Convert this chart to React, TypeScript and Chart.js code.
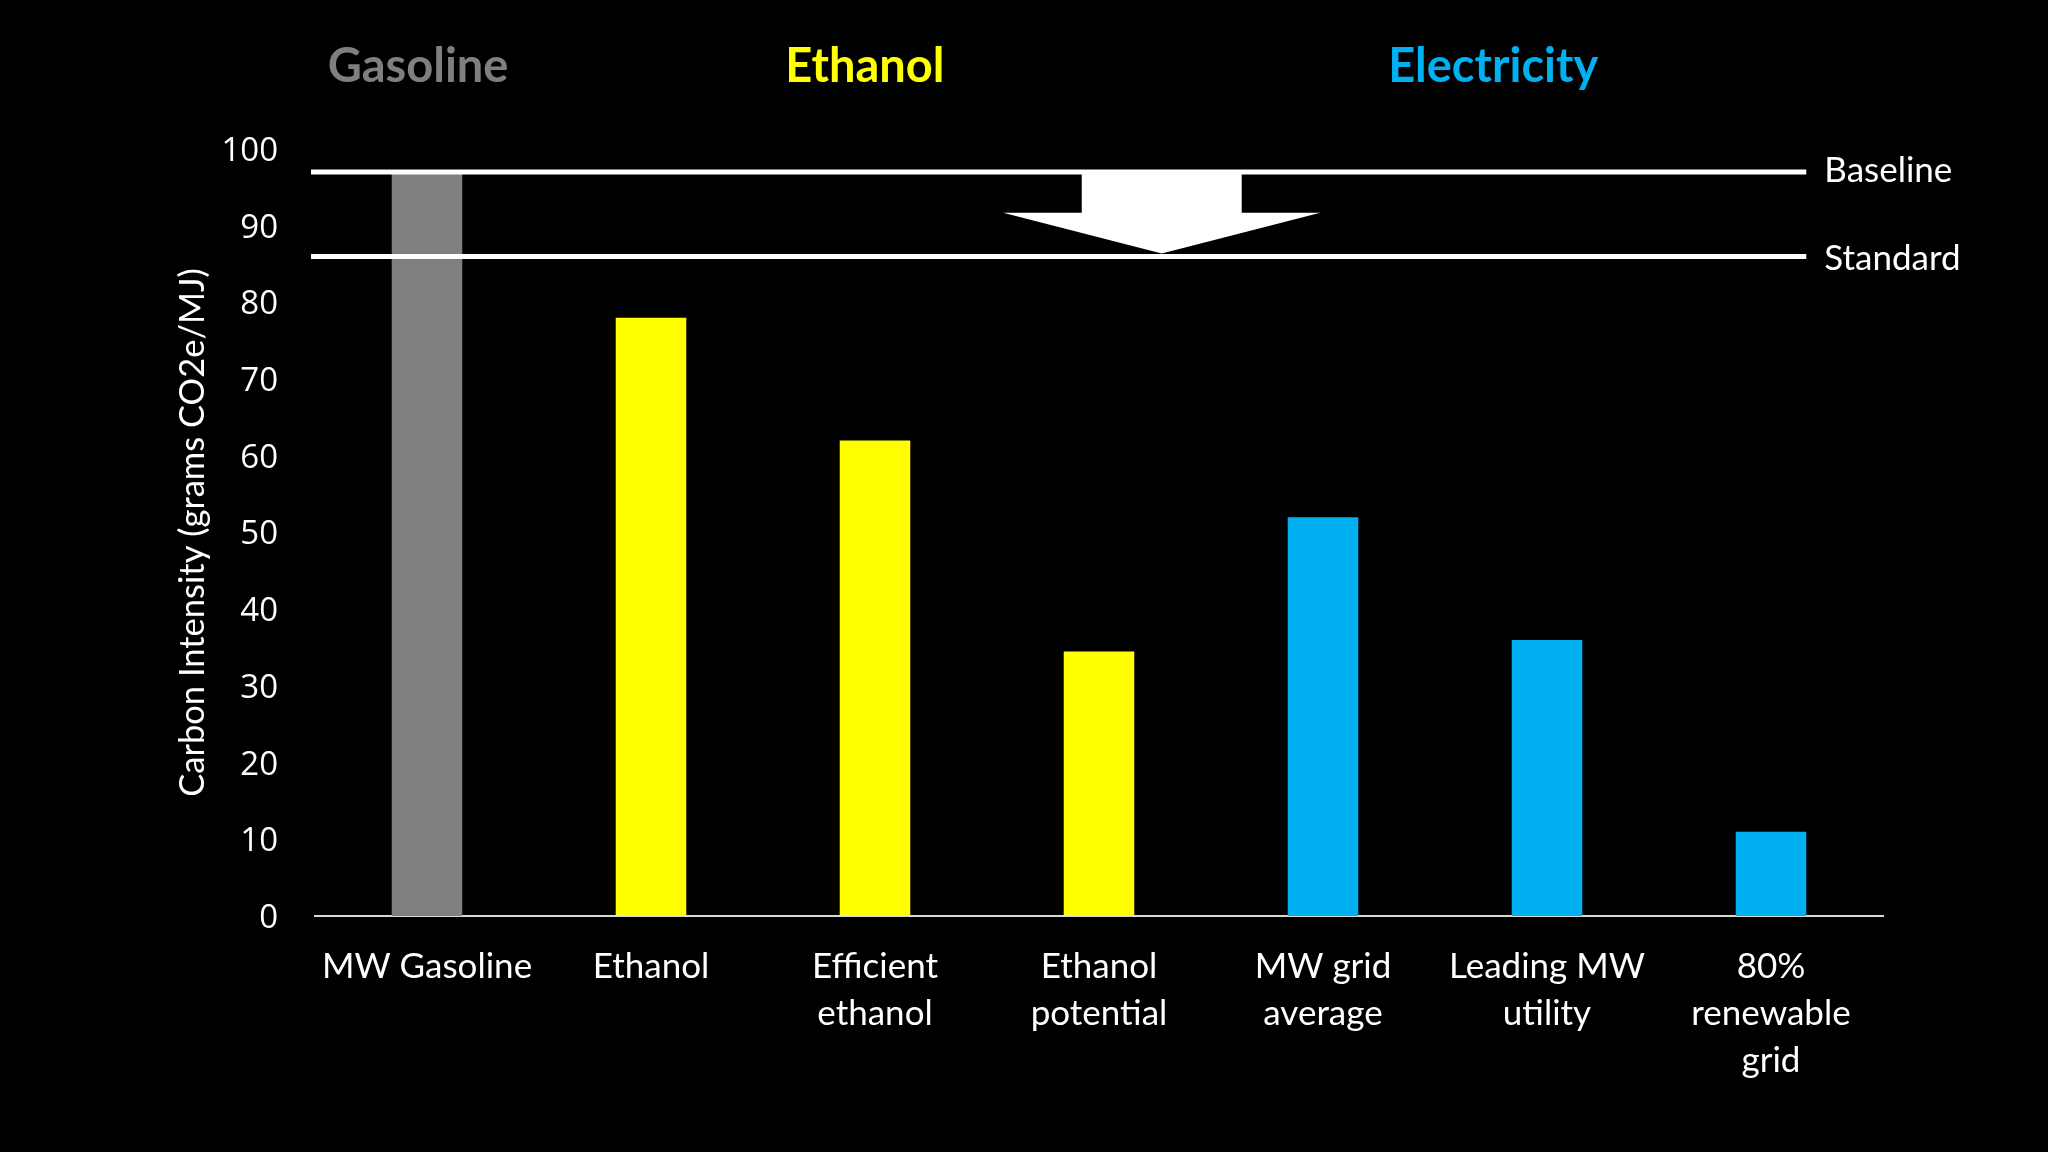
import React, { useEffect, useRef } from 'react';
import { Chart, registerables } from 'chart.js';

Chart.register(...registerables);

// ---- data ----
const categories: string[][] = [
  ['MW Gasoline'],
  ['Ethanol'],
  ['Efficient', 'ethanol'],
  ['Ethanol', 'potential'],
  ['MW grid', 'average'],
  ['Leading MW', 'utility'],
  ['80%', 'renewable', 'grid'],
];
const values: number[] = [97, 78, 62, 34.5, 52, 36, 11];
const barColors: string[] = ['#7f7f7f', '#ffff00', '#ffff00', '#ffff00', '#00b0f0', '#00b0f0', '#00b0f0'];
const yTicks: number[] = [0, 10, 20, 30, 40, 50, 60, 70, 80, 90, 100];
const refLabels: string[] = ['Baseline', 'Standard'];
const refValues: number[] = [97, 86];
const groupTitles: string[] = ['Gasoline', 'Ethanol', 'Electricity'];
const groupColors: string[] = ['#7f7f7f', '#ffff00', '#00b0f0'];
const yTitle = 'Carbon Intensity (grams CO2e/MJ)';

// ---- layout constants (not data) ----
const W = 2048;
const H = 1152;
const BAR_PCT = 0.315;
const groupTitleIdx = [-0.04, 1.955, 4.76];
const ARROW_IDX = 3.28;
const ARROW_HEAD_TOP = 91.7;

const overlayPlugin = {
  id: 'overlay',
  beforeDraw(chart: any) {
    const { ctx } = chart;
    ctx.save();
    ctx.fillStyle = '#000000';
    ctx.fillRect(0, 0, chart.width, chart.height);
    ctx.restore();
  },
  afterDatasetsDraw(chart: any) {
    const { ctx, chartArea, scales } = chart;
    const x = scales.x;
    const y = scales.y;
    const catW = x.getPixelForValue(1) - x.getPixelForValue(0);
    const lineStart = chartArea.left - 4;
    const lineEnd = x.getPixelForValue(categories.length - 1) + (catW * BAR_PCT) / 2;

    ctx.save();
    // arrow
    const cx = x.getPixelForValue(ARROW_IDX);
    const shaftHalf = catW * 0.357;
    const headHalf = catW * 0.708;
    const yTop = y.getPixelForValue(refValues[0]);
    const yHead = y.getPixelForValue(ARROW_HEAD_TOP);
    const yTip = y.getPixelForValue(refValues[1]) - 3;
    ctx.fillStyle = '#ffffff';
    ctx.beginPath();
    ctx.moveTo(cx - shaftHalf, yTop);
    ctx.lineTo(cx + shaftHalf, yTop);
    ctx.lineTo(cx + shaftHalf, yHead);
    ctx.lineTo(cx + headHalf, yHead);
    ctx.lineTo(cx, yTip);
    ctx.lineTo(cx - headHalf, yHead);
    ctx.lineTo(cx - shaftHalf, yHead);
    ctx.closePath();
    ctx.fill();

    // reference lines
    ctx.strokeStyle = '#ffffff';
    ctx.lineWidth = 5;
    ctx.font = '35px Lato';
    ctx.textAlign = 'left';
    ctx.textBaseline = 'middle';
    refValues.forEach((v, i) => {
      const py = y.getPixelForValue(v);
      ctx.beginPath();
      ctx.moveTo(lineStart, py);
      ctx.lineTo(lineEnd, py);
      ctx.stroke();
      ctx.fillText(refLabels[i], lineEnd + 18, py + (i === 1 ? 2 : -1));
    });

    // group titles
    ctx.font = 'bold 47px Lato';
    ctx.textAlign = 'center';
    ctx.textBaseline = 'middle';
    groupTitles.forEach((t, i) => {
      ctx.fillStyle = groupColors[i];
      ctx.fillText(t, x.getPixelForValue(groupTitleIdx[i]), 67);
    });
    ctx.restore();
  },
};

export default function App() {
  const ref = useRef<HTMLCanvasElement | null>(null);
  useEffect(() => {
    document.body.style.margin = '0';
    document.body.style.background = '#000';
    const canvas = ref.current!;
    const chart = new Chart(canvas, {
      type: 'bar',
      data: {
        labels: categories,
        datasets: [
          {
            data: values,
            backgroundColor: barColors,
            barPercentage: BAR_PCT,
            categoryPercentage: 1,
            borderWidth: 0,
          },
        ],
      },
      options: {
        responsive: false,
        animation: false,
        layout: { padding: { left: 0, right: 165, top: 149, bottom: 0 } },
        plugins: { legend: { display: false }, tooltip: { enabled: false } },
        scales: {
          x: {
            grid: { display: false, drawTicks: false },
            border: { display: true, color: '#d9d9d9', width: 2 },
            ticks: {
              color: '#ffffff',
              font: { family: 'Lato', size: 35, lineHeight: 1.34 },
              padding: 27,
              maxRotation: 0,
              autoSkip: false,
            },
            afterFit: (s: any) => {
              s.height = 236;
            },
          },
          y: {
            min: 0,
            max: 100,
            grid: { display: false, drawTicks: false },
            border: { display: false },
            afterBuildTicks: (s: any) => {
              s.ticks = yTicks.map((v) => ({ value: v }));
            },
            ticks: {
              color: '#ffffff',
              font: { family: 'Open Sans', size: 33 },
              padding: 37,
              labelOffset: 2.5,
            },
            title: {
              display: true,
              text: yTitle,
              color: '#ffffff',
              font: { family: 'Lato', size: 34.5, lineHeight: 1.2 },
              padding: { top: 172, bottom: 0 },
            },
            afterFit: (s: any) => {
              s.width = 315;
            },
          },
        },
      },
      plugins: [overlayPlugin],
    });
    return () => chart.destroy();
  }, []);
  return (
    <div style={{ width: W, height: H, background: '#000' }}>
      <canvas ref={ref} width={W} height={H} style={{ display: 'block', width: W, height: H }} />
    </div>
  );
}
